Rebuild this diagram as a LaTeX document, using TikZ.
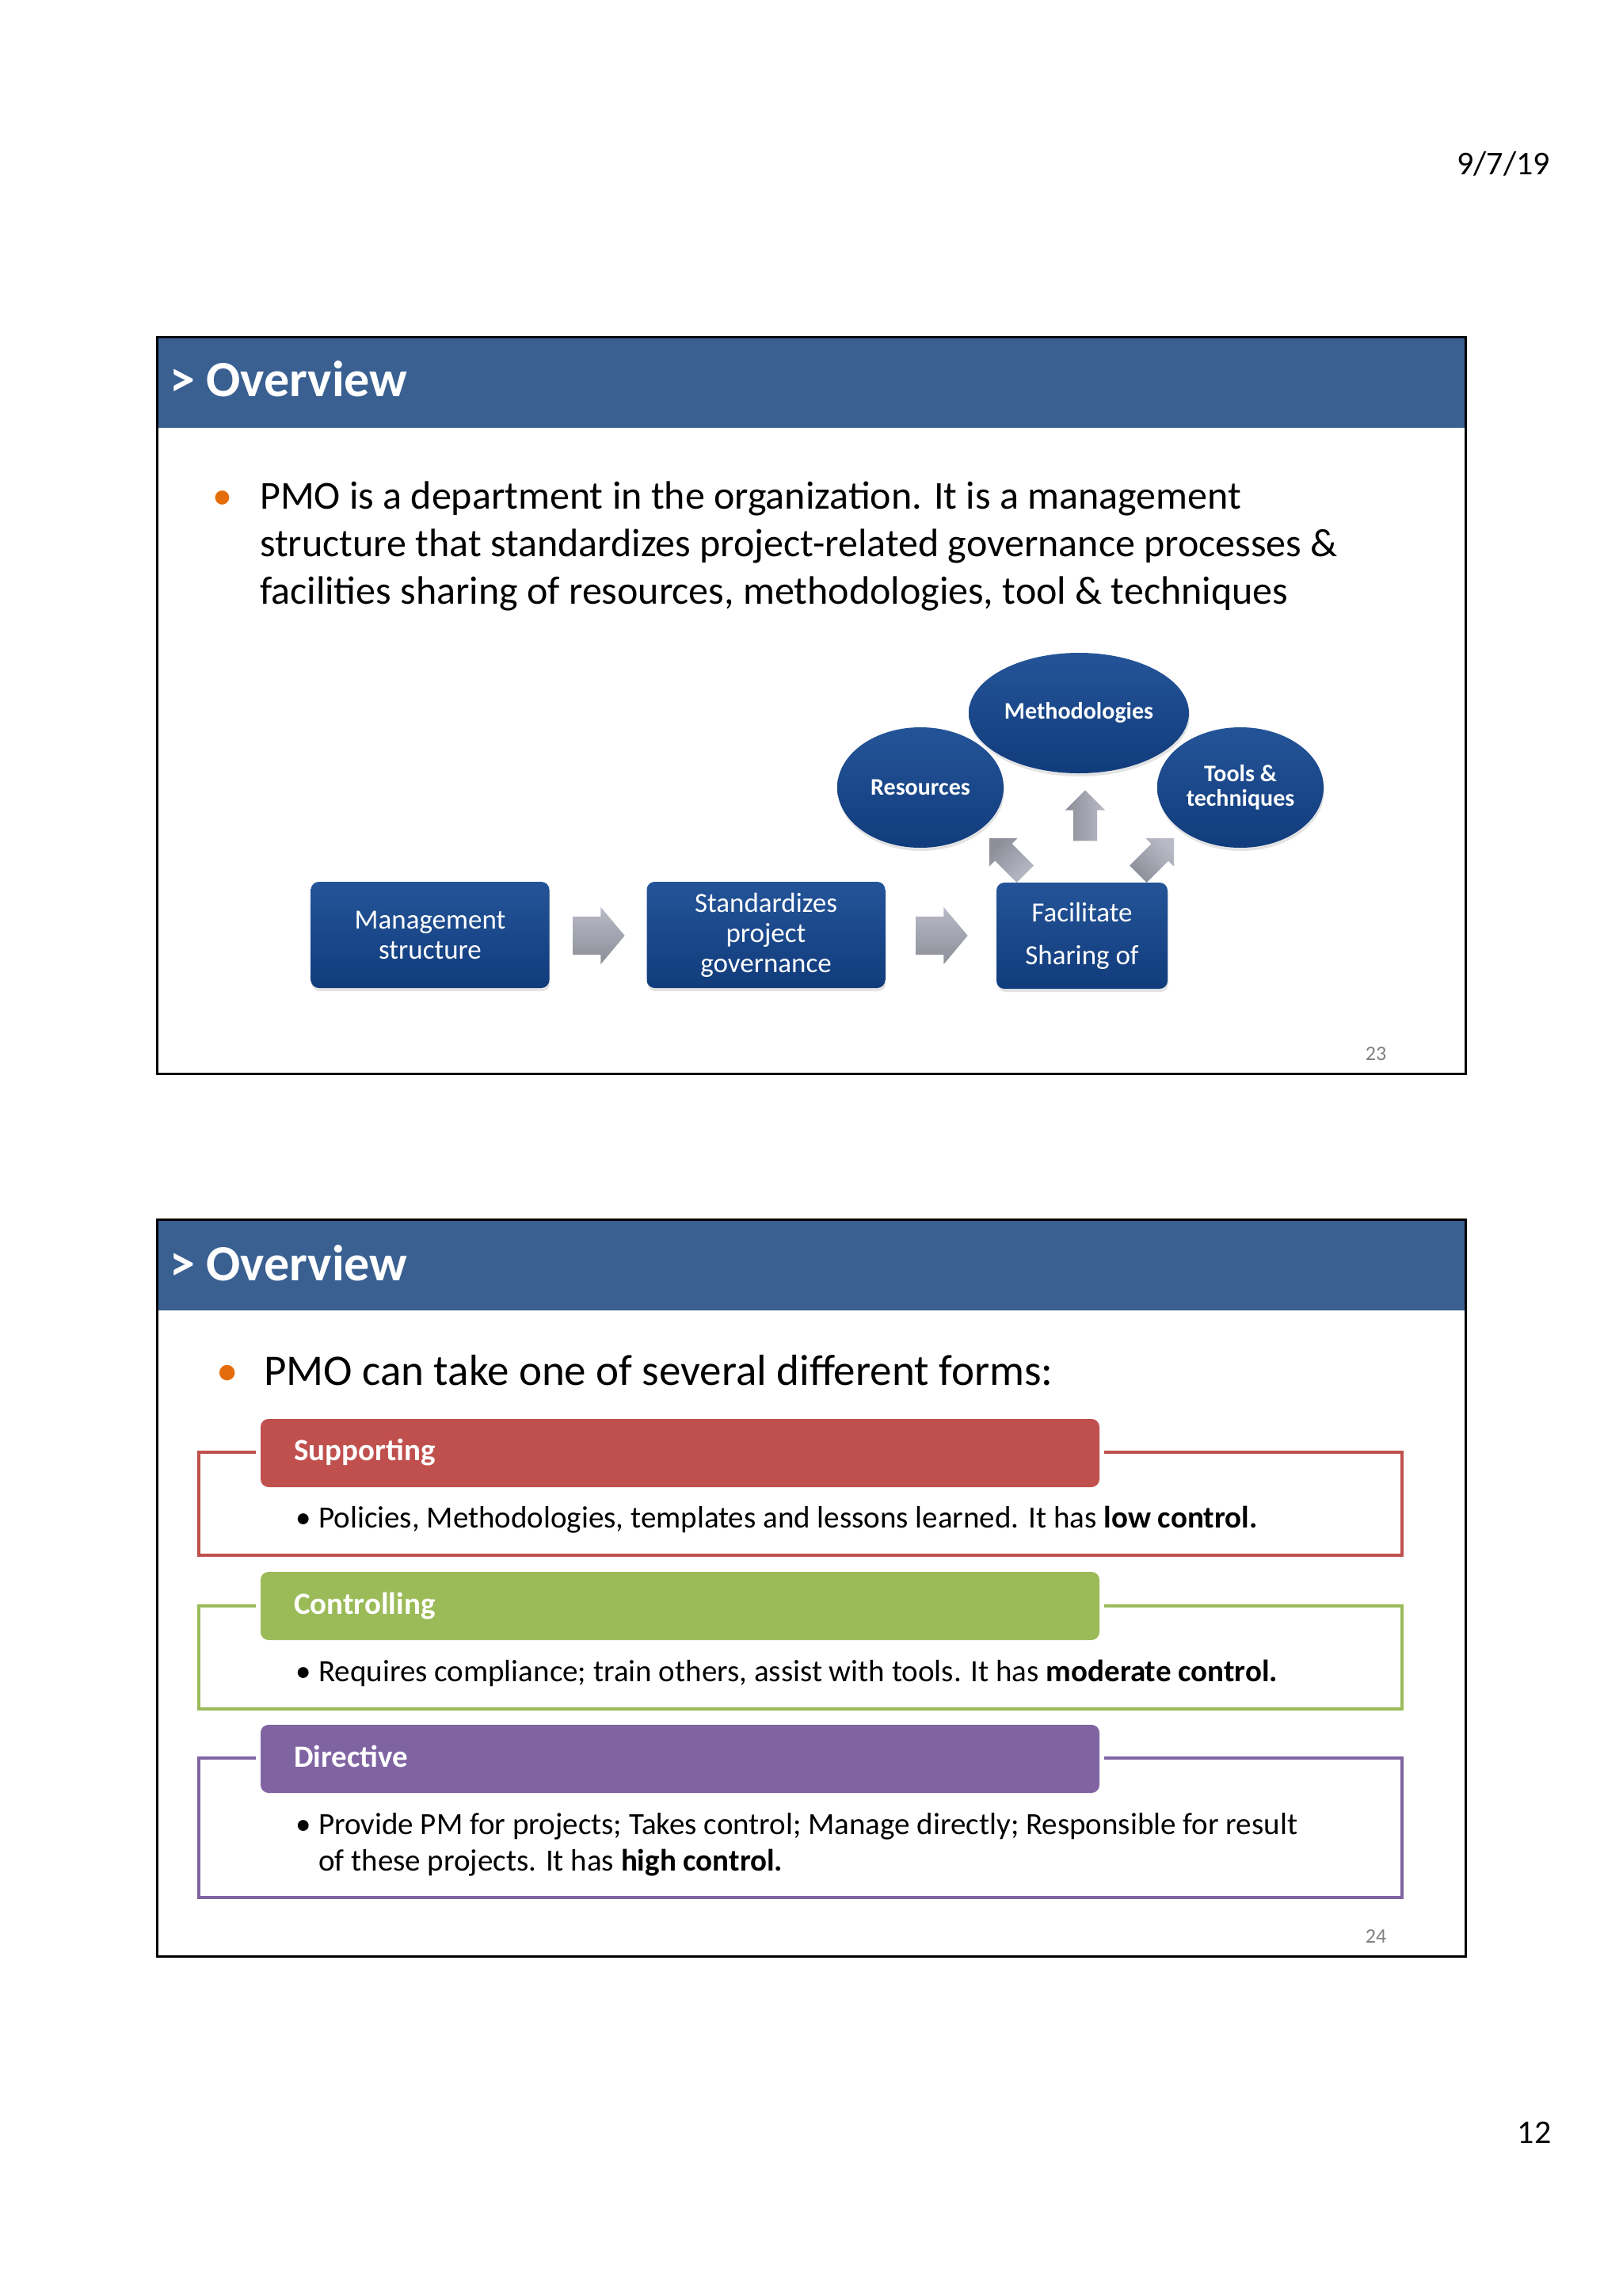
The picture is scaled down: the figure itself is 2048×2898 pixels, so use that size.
\documentclass[tikz,border=0pt]{standalone}
\usepackage{fontspec}
\setmainfont{Carlito}
\usetikzlibrary{positioning, shapes.geometric, shapes.arrows, shadows}
\definecolor{hdrblue}{RGB}{58,96,146}
\definecolor{boxtop}{RGB}{36,84,152}
\definecolor{boxbot}{RGB}{17,60,124}
\definecolor{arrtop}{RGB}{184,186,198}
\definecolor{arrbot}{RGB}{140,142,152}
\definecolor{buloran}{RGB}{228,108,10}
\definecolor{supred}{RGB}{192,80,77}
\definecolor{ctlgreen}{RGB}{155,187,89}
\definecolor{dirpurple}{RGB}{128,100,162}
\definecolor{pgnum}{RGB}{128,128,128}
\newcommand{\pxsize}[2]{\fontsize{#1}{#2}\selectfont}

\begin{document}
\begin{tikzpicture}[
    x=1pt, y=-1pt,
    every node/.style={inner sep=0pt},
    slide/.style={draw=black, line width=3pt},
    hdr/.style={fill=hdrblue},
    hdrtext/.style={anchor=base west, text=white, font=\pxsize{64}{76}\bfseries},
    bul/.style={anchor=base west, align=left, font=\pxsize{50}{60}},
    dot/.style={anchor=base west, text=buloran, font=\pxsize{50}{60}},
    stepbox/.style={rectangle, rounded corners=10pt, top color=boxtop,
        bottom color=boxbot, text=white, align=center, font=\pxsize{35}{38},
        minimum height=134pt,
        drop shadow={opacity=0.22, shadow xshift=1pt, shadow yshift=-4pt}},
    oval/.style={ellipse, top color=boxtop, bottom color=boxbot, text=white,
        align=center, font=\pxsize{30}{31}\bfseries, minimum height=152pt,
        drop shadow={opacity=0.22, shadow xshift=1pt, shadow yshift=-4pt}},
    flow/.style={single arrow, top color=arrtop, bottom color=arrbot,
        inner xsep=0pt, inner ysep=24pt, minimum height=65pt,
        single arrow head extend=12pt, single arrow tip angle=100},
    share/.style={single arrow, top color=arrtop, bottom color=arrbot,
        inner xsep=0pt, inner ysep=15pt, minimum height=64pt,
        single arrow head extend=10pt, single arrow tip angle=90},
    formbox/.style={rectangle, rounded corners=10pt, minimum width=1059pt,
        minimum height=86pt},
    formlbl/.style={anchor=base west, text=white, font=\pxsize{39}{44}\bfseries},
    desc/.style={anchor=base west, align=left, font=\pxsize{39}{46}},
    pnum/.style={anchor=base, text=pgnum, font=\pxsize{26}{30}},
]
\useasboundingbox (0,0) rectangle (2048,2898);
\fill[white] (0,0) rectangle (2048,2898);

% ====== PAGE ======
\node[anchor=base, font=\pxsize{42}{50}] (date) at (1898,220) {9/7/19};
\node[anchor=base, font=\pxsize{42}{50}] (page) at (1937,2705) {12};

% ====== SLIDE 23 ======
\fill[hdr] (198,425) rectangle (1850,540);
\draw[slide] (198,425) rectangle (1850,1355);
\node[hdrtext] (s1-title) at (214,500) {> Overview};
\node[dot] (s1-dot) at (268,642) {\textbullet};
% base anchor sits on the last line
\node[bul] (s1-text) at (328,762)
    {PMO is a department in the organization. It is a management\\
     structure that standardizes project-related governance processes \&\\
     facilities sharing of resources, methodologies, tool \& techniques};

\node[stepbox, minimum width=301pt] (s1-mgmt) at (543,1180) {Management\\structure};
\node[stepbox, minimum width=301pt] (s1-std)  at (967,1180) {Standardizes\\project\\governance};
\node[stepbox, minimum width=216pt] (s1-fac)  at (1366,1181) {Facilitate\\[16pt]Sharing of};

\node[oval, minimum width=210pt] (s1-res)   at (1162,994) {Resources};
\node[oval, minimum width=210pt] (s1-tools) at (1566,994) {Tools \&\\techniques};
\node[oval, minimum width=278pt] (s1-meth)  at (1362,900) {Methodologies};

% block arrows (node centre is behind the head)
\node[flow] (s1-a1) at (746,1181) {};
\node[flow] (s1-a2) at (1179,1181) {};
\node[share, rotate=90,  shading angle=-90]  (s1-up) at (1370,1037) {};
\node[share, rotate=135, shading angle=-135] (s1-nw) at (1277,1086) {};
\node[share, rotate=45,  shading angle=-45]  (s1-ne) at (1454,1086) {};

\node[pnum] (s1-num) at (1737,1338) {23};

% ====== SLIDE 24 ======
\fill[hdr] (198,1539) rectangle (1850,1654);
\draw[slide] (198,1539) rectangle (1850,2469);
\node[hdrtext] (s2-title) at (214,1616) {> Overview};
\node[dot, font=\pxsize{55}{66}] (s2-dot) at (273,1748) {\textbullet};
\node[bul, font=\pxsize{55}{66}] (s2-text) at (333,1748) {PMO can take one of several different forms:};

\foreach \col/\ytop/\ybot in {supred/1833/1963, ctlgreen/2027/2157, dirpurple/2219/2395}
    \draw[line width=4pt, draw=\col] (323,\ytop) -| (251,\ybot) -| (1770,\ytop) -- (1394,\ytop);

\node[formbox, fill=supred]    (s2-sup) at (858.5,1834) {};
\node[formbox, fill=ctlgreen]  (s2-ctl) at (858.5,2027) {};
\node[formbox, fill=dirpurple] (s2-dir) at (858.5,2220) {};

\node[formlbl] (s2-sup-lbl) at (371,1843) {Supporting};
\node[formlbl] (s2-ctl-lbl) at (371,2037) {Controlling};
\node[formlbl] (s2-dir-lbl) at (371,2230) {Directive};

\node[desc] (s2-sup-dot) at (373,1928) {\textbullet};
\node[desc] (s2-sup-txt) at (402,1928)
    {Policies, Methodologies, templates and lessons learned. It has \textbf{low control.}};
\node[desc] (s2-ctl-dot) at (373,2122) {\textbullet};
\node[desc] (s2-ctl-txt) at (402,2122)
    {Requires compliance; train others, assist with tools. It has \textbf{moderate control.}};
\node[desc] (s2-dir-dot) at (373,2315) {\textbullet};
\node[desc] (s2-dir-txt) at (402,2361)
    {Provide PM for projects; Takes control; Manage directly; Responsible for result\\
     of these projects. It has \textbf{high control.}};

\node[pnum] (s2-num) at (1737,2452) {24};

\end{tikzpicture}
\end{document}
